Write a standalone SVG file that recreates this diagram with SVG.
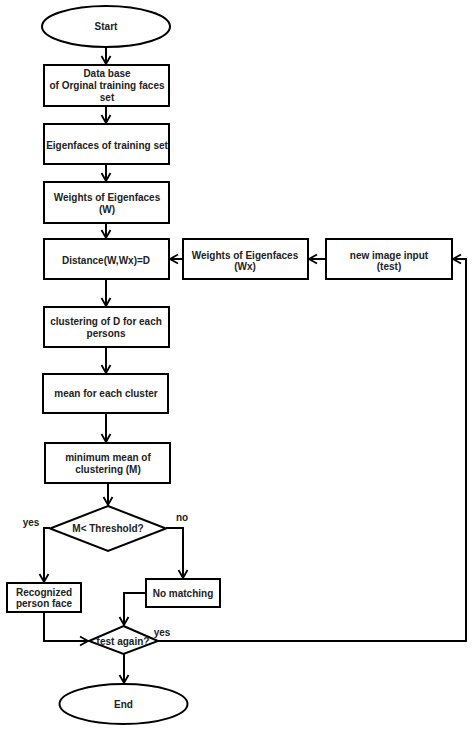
<svg xmlns="http://www.w3.org/2000/svg" width="474" height="732" viewBox="0 0 474 732">
<defs>
<marker id="arr" markerUnits="userSpaceOnUse" markerWidth="14" markerHeight="14" viewBox="-10 -7 12 14" refX="0" refY="0" orient="auto">
<path d="M-8,-4.5 L0,0 L-8,4.5" fill="none" stroke="#000" stroke-width="1.8"/>
</marker>
</defs>
<style>
.n{fill:#fff;stroke:#000;stroke-width:2}
.t{font-family:"Liberation Sans",Arial,sans-serif;font-size:10px;font-weight:bold;fill:#222;text-anchor:middle}
.c{fill:none;stroke:#000;stroke-width:2;marker-end:url(#arr)}
</style>
<rect width="474" height="732" fill="#fff"/>
<g id="connectors">
<path class="c" d="M106,47 V64"/>
<path class="c" d="M106,106 V123"/>
<path class="c" d="M106,164 V181"/>
<path class="c" d="M106,223 V238"/>
<path class="c" d="M183,259 H170"/>
<path class="c" d="M326,259 H309"/>
<path class="c" d="M106,279 V306"/>
<path class="c" d="M106,347 V373"/>
<path class="c" d="M106,413 V442"/>
<path class="c" d="M108,483 V505"/>
<path class="c" d="M50,528 H44 V582"/>
<path class="c" d="M166,528 H183 V578"/>
<path class="c" d="M146,593 H124 V625"/>
<path class="c" d="M44,612 V641 H88"/>
<path class="c" d="M158,641 H466 V259 H453"/>
<path class="c" d="M124,654 V683"/>
</g>
<g id="start"><ellipse class="n" cx="106" cy="26.5" rx="64" ry="20.5"/><text class="t" x="106" y="30">Start</text></g>
<g id="database"><rect class="n" x="44" y="65" width="125" height="41"/><text class="t" x="107" y="76.5">Data base</text><text class="t" x="107" y="88.5">of Orginal training faces</text><text class="t" x="107" y="100.5">set</text></g>
<g id="eigenfaces"><rect class="n" x="44" y="124" width="125" height="40"/><text class="t" x="107" y="148.5">Eigenfaces of training set</text></g>
<g id="weights"><rect class="n" x="44" y="182" width="125" height="41"/><text class="t" x="107" y="200.5">Weights of Eigenfaces</text><text class="t" x="107" y="212.5">(W)</text></g>
<g id="distance"><rect class="n" x="44" y="239" width="125" height="40"/><text class="t" x="106" y="263.5">Distance(W,Wx)=D</text></g>
<g id="weightsx"><rect class="n" x="183" y="239" width="125" height="40"/><text class="t" x="245" y="258.5">Weights of Eigenfaces</text><text class="t" x="245" y="269.5">(Wx)</text></g>
<g id="newimage"><rect class="n" x="326" y="239" width="126" height="40"/><text class="t" x="389" y="258.5">new image input</text><text class="t" x="389" y="269.5">(test)</text></g>
<g id="clustering"><rect class="n" x="44" y="307" width="125" height="40"/><text class="t" x="106" y="324.5">clustering of D for each</text><text class="t" x="106" y="336.5">persons</text></g>
<g id="mean"><rect class="n" x="43" y="374" width="125" height="39"/><text class="t" x="106" y="396.5">mean for each cluster</text></g>
<g id="minmean"><rect class="n" x="45" y="443" width="125" height="40"/><text class="t" x="108" y="460.5">minimum mean of</text><text class="t" x="108" y="472.5">clustering (M)</text></g>
<g id="threshold"><polygon class="n" points="108,506 166,528.5 108,551 50,528.5"/><text class="t" x="108" y="531.5">M&lt; Threshold?</text></g>
<g id="recognized"><rect class="n" x="7" y="583" width="74" height="29"/><text class="t" x="44" y="595.5">Recognized</text><text class="t" x="44" y="607">person face</text></g>
<g id="nomatching"><rect class="n" x="146" y="579" width="74" height="28"/><text class="t" x="183" y="597">No matching</text></g>
<g id="testagain"><polygon class="n" points="123.5,626 158,641 123.5,654 89,641"/><text class="t" x="123" y="644.5">test again?</text></g>
<g id="end"><ellipse class="n" cx="123.5" cy="704" rx="64" ry="20"/><text class="t" x="123.5" y="707.5">End</text></g>
<g id="labels">
<text class="t" x="31" y="525.5">yes</text>
<text class="t" x="182" y="520.5">no</text>
<text class="t" x="162" y="635.5">yes</text>
</g>
</svg>
